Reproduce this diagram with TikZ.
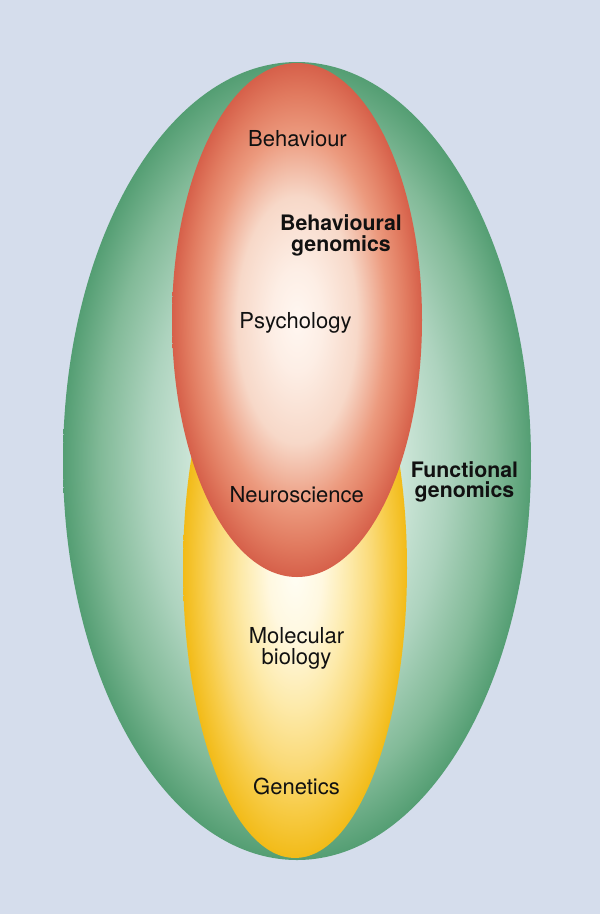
\documentclass[tikz,border=0pt]{standalone}
\usepackage{fontspec}
\setmainfont{TeX Gyre Heros}
\usetikzlibrary{shapes.geometric}
\definecolor{bgcol}{HTML}{D5DDEC}
\definecolor{txtcol}{HTML}{111111}
% green
\definecolor{gA}{HTML}{EAF5EF}
\definecolor{gB}{HTML}{D4EADE}
\definecolor{gC}{HTML}{ADD3BE}
\definecolor{gD}{HTML}{82BA98}
\definecolor{gE}{HTML}{549E73}
% red
\definecolor{rA}{HTML}{FFF7F1}
\definecolor{rB}{HTML}{FDEEE5}
\definecolor{rC}{HTML}{F7D8C8}
\definecolor{rD}{HTML}{EC9A7E}
\definecolor{rE}{HTML}{E17A5F}
\definecolor{rF}{HTML}{D6604A}
% yellow
\definecolor{yA}{HTML}{FFFEF6}
\definecolor{yB}{HTML}{FFF8E0}
\definecolor{yC}{HTML}{FDEAAA}
\definecolor{yD}{HTML}{FADA78}
\definecolor{yE}{HTML}{F7CB45}
\definecolor{yF}{HTML}{F2BB18}
\pgfdeclareradialshading{greenshade}{\pgfpoint{0bp}{0bp}}{color(0bp)=(gA); color(10bp)=(gB); color(16bp)=(gC); color(21bp)=(gD); color(25bp)=(gE); color(50bp)=(gE)}
\pgfdeclareradialshading{redshade}{\pgfpoint{0bp}{0bp}}{color(0bp)=(rA); color(5bp)=(rB); color(12bp)=(rC); color(18bp)=(rD); color(22bp)=(rE); color(25bp)=(rF); color(50bp)=(rF)}
\pgfdeclareradialshading{yellowshade}{\pgfpoint{0bp}{0bp}}{color(0bp)=(yA); color(6bp)=(yB); color(12bp)=(yC); color(17bp)=(yD); color(21bp)=(yE); color(25bp)=(yF); color(50bp)=(yF)}
\tikzset{
  blob/.style={ellipse, inner sep=0pt, outer sep=0pt, shade},
  lbl/.style={text=txtcol, inner sep=0pt, font=\fontsize{22}{21}\selectfont, align=center},
  blbl/.style={text=txtcol, inner sep=0pt, font=\fontsize{21.3}{20.5}\selectfont\bfseries, align=center}
}
\begin{document}
\begin{tikzpicture}[x=1pt,y=-1pt]
  \fill[bgcol] (0,0) rectangle (600,914);
  \useasboundingbox (0,0) rectangle (600,914);
  \node[blob, shading=greenshade, minimum width=468pt, minimum height=798pt] (green) at (297,461) {};
  \node[blob, shading=yellowshade, minimum width=224pt, minimum height=580pt] (yellow) at (295,568) {};
  \node[blob, shading=redshade, minimum width=250pt, minimum height=514pt] (red) at (297,320) {};
  \node[lbl, anchor=base] (behaviour) at (297.5,146) {Behaviour};
  \node[blbl] (behgen) at (341,235.5) {Behavioural\\genomics};
  \node[lbl, anchor=base] (psychology) at (295.5,328) {Psychology};
  \node[lbl, anchor=base] (neuro) at (296.7,502) {Neuroscience};
  \node[blbl] (fungen) at (464.5,482) {Functional\\genomics};
  \node[lbl] (molbio) at (296.5,648) {Molecular\\biology};
  \node[lbl, anchor=base] (genetics) at (296.5,794) {Genetics};
\end{tikzpicture}
\end{document}
